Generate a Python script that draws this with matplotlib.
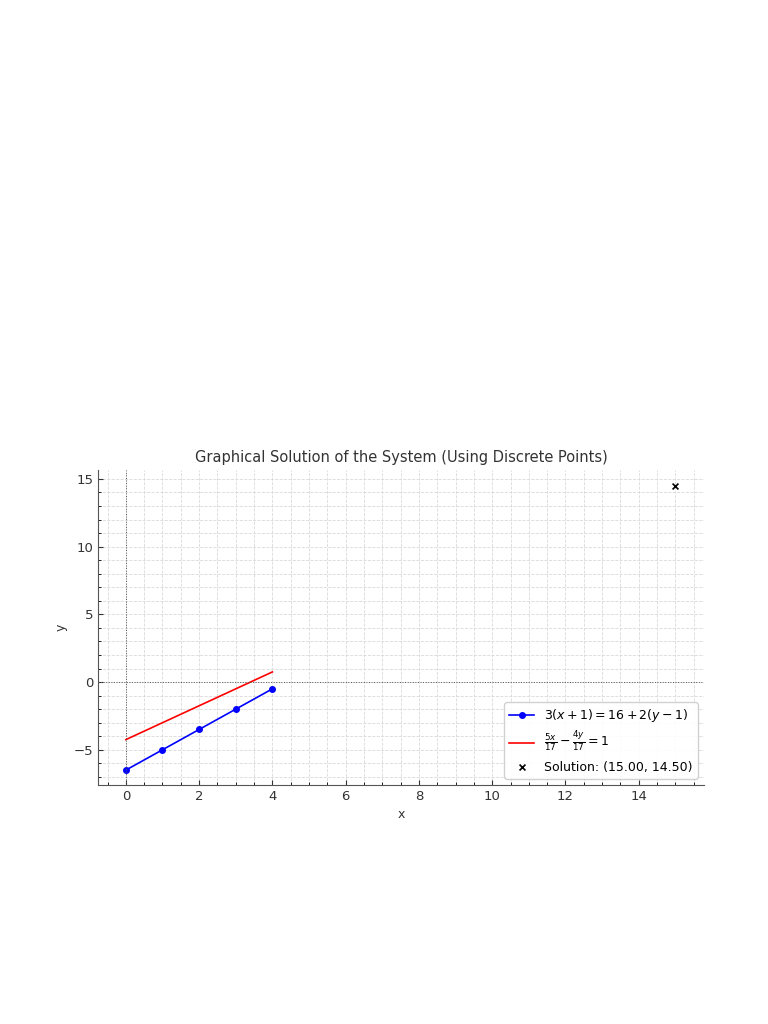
import matplotlib
matplotlib.use("Agg")
import matplotlib.pyplot as plt
from matplotlib.ticker import AutoMinorLocator

x_blue = [0, 1, 2, 3, 4]
y_blue = [-6.5, -5.0, -3.5, -2.0, -0.5]
x_red = [0, 4]
y_red = [-4.25, 0.75]
sol = (15.0, 14.5)

fig = plt.figure(figsize=(7.68, 10.24), dpi=100)
ax = fig.add_axes([0.1276, 0.2334, 0.789, 0.3076])
ax.plot(x_blue, y_blue, 'b-', marker='o', markersize=4, lw=1.2, label=r'$3(x+1)=16+2(y-1)$')
ax.plot(x_red, y_red, 'r-', lw=1.2, label=r'$\frac{5x}{17}-\frac{4y}{17}=1$')
ax.scatter([sol[0]], [sol[1]], marker='x', color='black', s=18, linewidths=1.2,
           label=f'Solution: ({sol[0]:.2f}, {sol[1]:.2f})', zorder=3)
ax.axhline(0, color='#555555', lw=0.7, ls=':')
ax.axvline(0, color='#555555', lw=0.7, ls=':')
ax.set_xlim(-0.76, 15.78)
ax.set_ylim(-7.6, 15.66)
ax.set_xticks(range(0, 15, 2))
ax.set_yticks([-5, 0, 5, 10, 15])
ax.xaxis.set_minor_locator(AutoMinorLocator(4))
ax.yaxis.set_minor_locator(AutoMinorLocator(5))
ax.grid(True, which='both', color='#d9d9d9', lw=0.6, ls='--')
for s in ['top', 'right']:
    ax.spines[s].set_visible(False)
for s in ['left', 'bottom']:
    ax.spines[s].set_color('#555555')
ax.tick_params(direction='in', labelsize=9.5, colors='#333333')
ax.tick_params(which='minor', direction='in', length=2)
ax.set_xlabel('x', fontsize=9, color='#333333')
ax.set_ylabel('y', fontsize=9, color='#333333')
ax.set_title('Graphical Solution of the System (Using Discrete Points)', fontsize=10.5, color='#333333')
ax.legend(loc='lower right', fontsize=9, framealpha=0.9)
fig.savefig('out.png', dpi=100)
